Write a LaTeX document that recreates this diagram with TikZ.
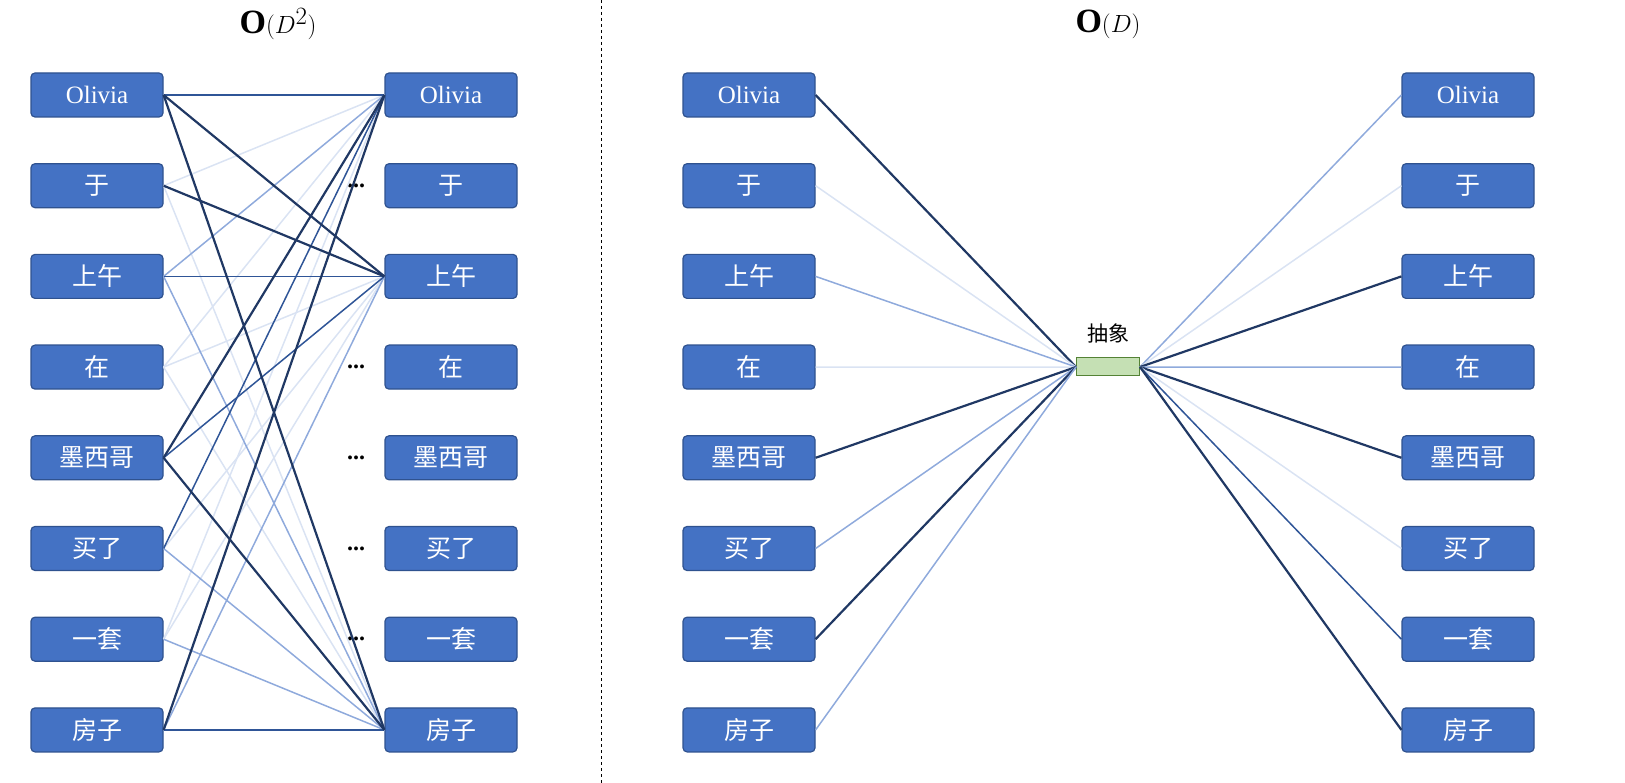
\documentclass[tikz,border=0pt]{standalone}
\usepackage{fontspec}
\newfontfamily\cjk{Noto Sans CJK SC}
\setmainfont{Liberation Serif}
\definecolor{dk}{HTML}{203864}
\definecolor{md}{HTML}{2F5597}
\definecolor{lt}{HTML}{8FAADC}
\definecolor{vl}{HTML}{DAE3F3}
\definecolor{bx}{HTML}{4472C4}
\definecolor{bxd}{HTML}{2F528F}
\definecolor{gf}{HTML}{C5E0B4}
\definecolor{gd}{HTML}{548235}
\begin{document}
\begin{tikzpicture}[x=1pt,y=-1pt,
 wbox/.style={draw=bxd,line width=1.2pt,fill=bx,rounded corners=4pt,minimum width=132pt,minimum height=44pt,inner sep=0pt,text=white,font=\fontsize{25}{25}\selectfont},
 ldk/.style={dk,line width=2.2pt},lmd/.style={md,line width=1.5pt},llt/.style={lt,line width=1.5pt},lvl/.style={vl,line width=1.5pt}]
\useasboundingbox (0,0) rectangle (1625,783);
\draw[dashed] (601,0) -- (601,783);
\node (t1) at (278,24) {\fontsize{34}{34}\selectfont $\mathbf{O}(D^2)$};
\node (t2) at (1108,24) {\fontsize{34}{34}\selectfont $\mathbf{O}(D)$};
\foreach \t [count=\i from 0] in {Olivia,{\cjk 于},{\cjk 上午},{\cjk 在},{\cjk 墨西哥},{\cjk 买了},{\cjk 一套},{\cjk 房子}}{
 \pgfmathsetmacro\yy{95+90.7*\i}
 \node[wbox] (a\i) at (97,\yy) {\t};
 \node[wbox] (b\i) at (451,\yy) {\t};
 \node[wbox] (c\i) at (749,\yy) {\t};
 \node[wbox] (d\i) at (1468,\yy) {\t};
}
\foreach \i in {1,3,4,5,6}{\node[font=\fontsize{24}{24}\selectfont\bfseries] (dots\i) at (356,{95+90.7*\i}) {...};}
% left side
\foreach \s/\t/\st in {3/0/lvl,3/2/lvl,3/7/lvl,1/0/lvl,1/7/lvl,6/0/lvl,6/2/lvl,5/2/lvl,
 2/0/llt,2/7/llt,5/7/llt,6/7/llt,7/2/llt,
 0/0/lmd,2/2/lmd,4/2/lmd,5/0/lmd,7/7/lmd,
 0/2/ldk,0/7/ldk,1/2/ldk,4/0/ldk,4/7/ldk,7/0/ldk}
 \draw[\st] (a\s.east) -- (b\t.west);
% right side
\node[draw=gd,fill=gf,line width=1pt,minimum width=63pt,minimum height=18pt,inner sep=0pt] (m) at (1108,367) {};
\node[font=\cjk\fontsize{21}{21}\selectfont] (lab) at (1108,333) {抽象};
\foreach \s/\st in {0/ldk,1/lvl,2/llt,3/lvl,4/ldk,5/llt,6/ldk,7/llt}
 \draw[\st] (c\s.east) -- (m.west);
\foreach \s/\st in {0/llt,1/lvl,2/ldk,3/llt,4/ldk,5/lvl,6/lmd,7/ldk}
 \draw[\st] (m.east) -- (d\s.west);
\end{tikzpicture}
\end{document}
